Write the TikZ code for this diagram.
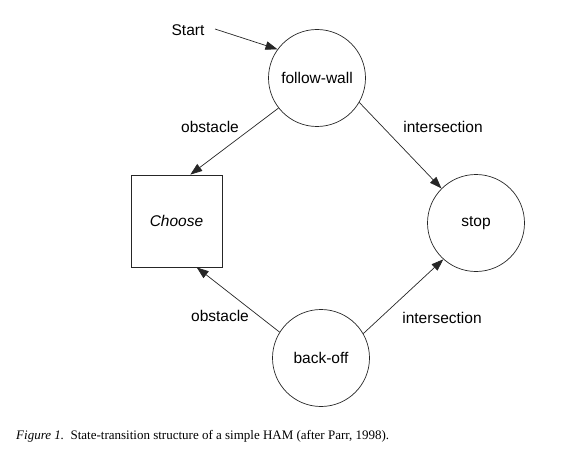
\documentclass[tikz,border=0pt]{standalone}
\usepackage{fontspec}
\setmainfont{Liberation Serif}
\newfontfamily\helv{Liberation Sans}
\usetikzlibrary{arrows.meta,calc}
\tikzset{
  state/.style={draw=black!85,line width=0.7pt,circle,minimum size=97pt,inner sep=0pt,font=\helv\fontsize{15.5}{18}\selectfont},
  choosebox/.style={draw=black!85,line width=0.7pt,rectangle,minimum width=91pt,minimum height=92pt,inner sep=0pt,font=\helv\itshape\fontsize{15.5}{18}\selectfont},
  lbl/.style={inner sep=0pt,font=\helv\fontsize{15.5}{18}\selectfont},
  conn/.style={draw=black!85,line width=0.7pt,-{Triangle[length=12pt,width=8.5pt]}}
}
\begin{document}
\begin{tikzpicture}[x=1pt,y=-1pt]
\useasboundingbox (0,0) rectangle (585,457);
\node[state] (fw) at (317,78) {follow-wall};
\node[state] (stop) at (476,223) {stop};
\node[state] (bo) at (321,358) {back-off};
\node[choosebox] (ch) at (176.5,221) {Choose};
\node[lbl] (start) at (188,30) {Start};
\node[lbl] (ob1) at (210,127) {obstacle};
\node[lbl] (in1) at (443,127) {intersection};
\node[lbl] (ob2) at (220,316) {obstacle};
\node[lbl] (in2) at (442,318) {intersection};
\coordinate (s0) at (215,29);
\draw[conn] (s0) -- (fw.144);
\draw[conn] (fw.218) -- ($(ch.north west)!0.65!(ch.north east)$);
\draw[conn] (fw.-30) -- (stop.135);
\draw[conn] (bo.148) -- ($(ch.south west)!0.72!(ch.south east)$);
\draw[conn] (bo.30) -- (stop.228);
\node[anchor=west,inner sep=0pt,font=\fontsize{13}{15}\selectfont] (cap) at (16,436) {\textit{Figure 1.}\ \ State-transition structure of a simple HAM (after Parr, 1998).};
\end{tikzpicture}
\end{document}
